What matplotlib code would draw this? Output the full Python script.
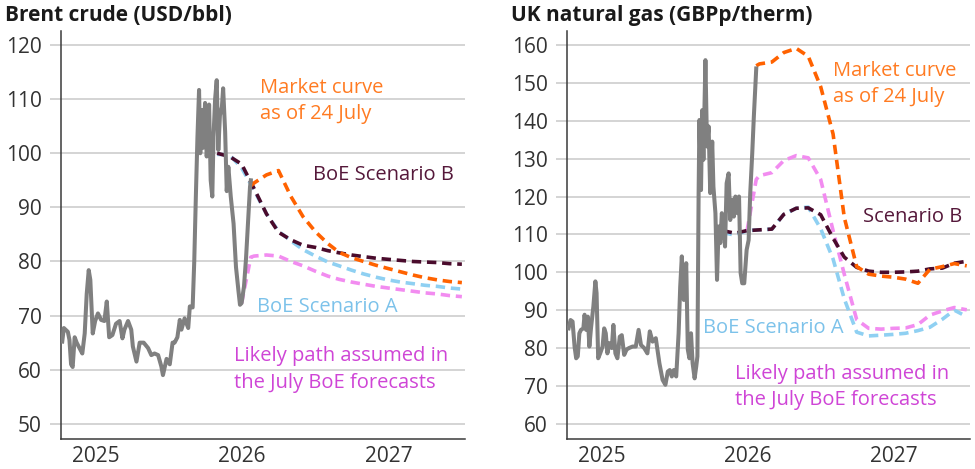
import matplotlib
matplotlib.use('Agg')
import matplotlib.pyplot as plt
import pandas as pd

plt.rcParams['font.family'] = ['Open Sans', 'DejaVu Sans']

# ---- data -------------------------------------------------------------
brent_dates = [
    '2025-04-10', '2025-04-14', '2025-04-24', '2025-04-28', '2025-05-02', '2025-05-06',
    '2025-05-11', '2025-05-16', '2025-05-23', '2025-05-30', '2025-06-05', '2025-06-10',
    '2025-06-15', '2025-06-19', '2025-06-25', '2025-07-01', '2025-07-08', '2025-07-16',
    '2025-07-24', '2025-07-30', '2025-08-05', '2025-08-13', '2025-08-22', '2025-08-31',
    '2025-09-07', '2025-09-12', '2025-09-21', '2025-09-29', '2025-10-03', '2025-10-12',
    '2025-10-20', '2025-10-30', '2025-11-10', '2025-11-18', '2025-11-26', '2025-12-05',
    '2025-12-13', '2025-12-17', '2025-12-26', '2026-01-03', '2026-01-10', '2026-01-15',
    '2026-01-22', '2026-01-28', '2026-02-01', '2026-02-09', '2026-02-18', '2026-02-22',
    '2026-03-01', '2026-03-05', '2026-03-09', '2026-03-13', '2026-03-17', '2026-03-20',
    '2026-03-24', '2026-03-27', '2026-04-01', '2026-04-05', '2026-04-09', '2026-04-11',
    '2026-04-15', '2026-04-19', '2026-04-22', '2026-04-26', '2026-04-30', '2026-05-04',
    '2026-05-08', '2026-05-13', '2026-05-16', '2026-05-21', '2026-05-25', '2026-05-29',
    '2026-06-04', '2026-06-11', '2026-06-17', '2026-06-23', '2026-06-27', '2026-07-01',
    '2026-07-07', '2026-07-12', '2026-07-18', '2026-07-22', '2026-07-24',
]
brent_hist = [
    65.2, 67.7, 67.0, 65.5, 61.0, 60.5,
    66.0, 65.0, 64.0, 63.0, 66.7, 74.0,
    78.4, 76.6, 66.7, 69.0, 70.4, 69.2,
    69.0, 72.6, 66.0, 66.4, 68.5, 69.0,
    65.8, 67.4, 69.0, 67.4, 64.3, 61.5,
    65.0, 65.0, 64.0, 62.7, 63.0, 62.7,
    60.6, 59.0, 62.0, 61.0, 65.0, 65.0,
    66.0, 69.2, 67.4, 69.5, 67.7, 71.7,
    71.5, 80.0, 92.0, 103.0, 111.7, 100.0,
    108.0, 101.0, 109.3, 99.4, 103.0, 109.0,
    95.0, 92.0, 103.0, 110.0, 113.5, 100.6,
    107.0, 108.6, 112.0, 104.0, 93.0, 97.5,
    92.0, 87.0, 79.0, 74.7, 72.0, 72.3,
    75.4, 80.5, 88.5, 93.8, 95.0,
]

gas_dates = [
    '2025-04-11', '2025-04-16', '2025-04-21', '2025-04-26', '2025-04-30', '2025-05-04',
    '2025-05-08', '2025-05-12', '2025-05-18', '2025-05-21', '2025-05-25', '2025-05-29',
    '2025-06-02', '2025-06-06', '2025-06-12', '2025-06-17', '2025-06-20', '2025-06-24',
    '2025-06-29', '2025-07-05', '2025-07-09', '2025-07-13', '2025-07-17', '2025-07-22',
    '2025-07-28', '2025-08-01', '2025-08-06', '2025-08-11', '2025-08-17', '2025-08-22',
    '2025-08-28', '2025-09-03', '2025-09-09', '2025-09-18', '2025-09-26', '2025-10-03',
    '2025-10-09', '2025-10-17', '2025-10-25', '2025-10-31', '2025-11-07', '2025-11-15',
    '2025-11-24', '2025-12-02', '2025-12-09', '2025-12-15', '2025-12-20', '2025-12-25',
    '2025-12-30', '2026-01-05', '2026-01-11', '2026-01-15', '2026-01-19', '2026-01-24',
    '2026-01-30', '2026-02-03', '2026-02-07', '2026-02-11', '2026-02-15', '2026-02-20',
    '2026-02-24', '2026-02-27', '2026-03-02', '2026-03-04', '2026-03-08', '2026-03-11',
    '2026-03-14', '2026-03-19', '2026-03-23', '2026-03-27', '2026-03-31', '2026-04-05',
    '2026-04-08', '2026-04-13', '2026-04-17', '2026-04-21', '2026-04-25', '2026-04-29',
    '2026-05-03', '2026-05-07', '2026-05-11', '2026-05-16', '2026-05-20', '2026-05-25',
    '2026-05-29', '2026-06-02', '2026-06-07', '2026-06-11', '2026-06-15', '2026-06-19',
    '2026-06-24', '2026-06-30', '2026-07-05', '2026-07-09', '2026-07-14', '2026-07-18',
    '2026-07-24',
]
gas_hist = [
    85.2, 87.4, 87.0, 80.4, 77.3, 77.8,
    83.9, 84.8, 85.2, 88.8, 84.8, 88.3,
    80.4, 85.2, 91.0, 97.6, 94.5, 77.3,
    78.6, 80.4, 85.2, 83.9, 78.6, 81.3,
    80.0, 86.1, 78.6, 77.3, 83.0, 83.4,
    78.2, 79.6, 80.0, 80.4, 80.4, 84.8,
    80.8, 80.0, 78.6, 84.4, 81.7, 82.6,
    76.0, 71.6, 70.3, 73.8, 74.2, 72.5,
    74.2, 72.5, 83.9, 96.2, 104.2, 92.7,
    102.4, 79.6, 77.3, 83.9, 76.0, 72.0,
    75.1, 77.8, 120.9, 140.2, 121.7, 142.8,
    129.7, 156.0, 133.2, 138.5, 120.9, 134.5,
    122.6, 115.6, 98.0, 112.1, 107.7, 115.6,
    112.1, 106.8, 123.5, 126.1, 113.8, 119.1,
    114.7, 120.0, 115.6, 120.0, 99.8, 97.1,
    97.1, 105.9, 108.5, 120.9, 131.4, 141.1,
    153.8,
]

# forecast paths: BoE scenarios monthly from May 2026,
# market curve from 24 July, likely path from 1 July
scen_dates = list(pd.date_range('2026-05-01', '2028-01-01', freq='MS'))
market_dates = [pd.Timestamp('2026-07-24')] + list(pd.date_range('2026-08-01', '2028-01-01', freq='MS'))
likely_dates = [pd.Timestamp('2026-07-01')] + market_dates

brent_scen_b = [100.0, 99.4, 98.0, 93.5, 88.8, 85.4, 84.0, 83.0, 82.6, 82.0, 81.6,
                81.2, 80.9, 80.6, 80.4, 80.2, 80.0, 79.9, 79.8, 79.6, 79.5]
brent_scen_a = [99.8, 99.7, 97.3, 93.2, 88.8, 85.6, 83.8, 82.2, 81.0, 79.9, 79.2,
                78.4, 77.7, 77.1, 76.6, 76.2, 75.9, 75.6, 75.4, 75.1, 74.9]
brent_market = [94.0, 94.5, 96.0, 96.8, 92.0, 88.3, 85.5, 83.3, 81.7, 80.7, 80.0,
                79.3, 78.7, 78.1, 77.5, 77.0, 76.6, 76.3, 76.1]
brent_likely = [72.3, 80.8, 81.0, 81.2, 81.0, 80.0, 79.2, 78.2, 77.3, 76.7, 76.2,
                75.8, 75.4, 75.1, 74.8, 74.5, 74.2, 74.0, 73.7, 73.5]

gas_scen_b = [111.0, 110.3, 111.0, 111.2, 111.4, 115.3, 116.9, 117.0, 115.2, 109.0, 104.0,
              101.3, 100.3, 100.0, 100.0, 100.1, 100.3, 100.9, 101.1, 102.4, 102.9]
gas_scen_a = [110.5, 109.8, 111.0, 111.2, 111.4, 115.3, 116.9, 117.2, 111.5, 103.5, 93.0,
              84.2, 83.2, 83.4, 83.6, 83.9, 84.6, 85.5, 87.6, 90.0, 88.3]
gas_market = [154.5, 155.0, 155.5, 158.0, 159.1, 157.0, 149.0, 136.5, 114.5, 101.5, 99.5,
              99.0, 98.7, 98.2, 97.1, 100.8, 101.5, 102.3, 101.7]
gas_likely = [111.0, 124.5, 125.5, 126.3, 129.5, 130.8, 130.2, 124.5, 111.0, 99.5, 87.5,
              85.2, 85.0, 85.2, 85.3, 86.2, 88.7, 89.8, 90.7, 90.1]

year_ticks = ['2025-07-02', '2026-07-02', '2027-07-02']
year_labels = ['2025', '2026', '2027']

# ---- style --------------------------------------------------------------
GREY = '#808080'
ORANGE = '#ff6200'
MAROON = '#4a0b2c'
BLUE = '#8fd0f2'
PINK = '#f28cf0'
TXT_ORANGE = '#ff7b22'
TXT_MAROON = '#55183a'
TXT_BLUE = '#7cc2ea'
TXT_PINK = '#cf45d6'
TICK_FS = 15
NOTE_FS = 14.5


def draw_panel(ax, hist_d, hist_v, scen_b, scen_a, market, likely, ylim, yticks):
    dash = dict(lw=2.6, dashes=(2.6, 1.6), dash_capstyle='butt')
    ax.plot(pd.to_datetime(scen_dates), scen_a, color=BLUE, zorder=3, **dash)
    ax.plot(pd.to_datetime(scen_dates), scen_b, color=MAROON, zorder=4, **dash)
    ax.plot(pd.to_datetime(likely_dates), likely, color=PINK, zorder=3, **dash)
    ax.plot(pd.to_datetime(market_dates), market, color=ORANGE, zorder=4, **dash)
    ax.plot(pd.to_datetime(hist_d), hist_v, color=GREY, lw=2.9, zorder=5)

    ax.set_xlim(pd.Timestamp('2025-04-07'), pd.Timestamp('2028-01-09'))
    ax.set_ylim(*ylim)
    ax.set_yticks(yticks)
    ax.set_xticks(pd.to_datetime(year_ticks))
    ax.set_xticklabels(year_labels)

    ax.yaxis.grid(True, color='#cdcdcd', lw=1.2)
    ax.set_axisbelow(True)
    for side in ('top', 'right'):
        ax.spines[side].set_visible(False)
    for side in ('left', 'bottom'):
        ax.spines[side].set_color('#3a3a3a')
        ax.spines[side].set_linewidth(1.1)

    ax.tick_params(axis='y', direction='out', length=8, width=1.2, color='#cdcdcd',
                   pad=6, labelsize=TICK_FS, labelcolor='#333333')
    ax.tick_params(axis='x', length=0, pad=5, labelsize=TICK_FS, labelcolor='#333333')


fig = plt.figure(figsize=(9.75, 4.69), dpi=100)

ax1 = fig.add_axes([0.0626, 0.064, 0.4144, 0.870])
draw_panel(ax1, brent_dates, brent_hist, brent_scen_b, brent_scen_a,
           brent_market, brent_likely, (47.2, 122.6), range(50, 121, 10))

ax2 = fig.add_axes([0.5815, 0.064, 0.4133, 0.870])
draw_panel(ax2, gas_dates, gas_hist, gas_scen_b, gas_scen_a,
           gas_market, gas_likely, (56.0, 163.7), range(60, 161, 10))

fig.text(0.005, 0.956, 'Brent crude (USD/bbl)', fontsize=15, fontweight='bold',
         color='#1a1a1a', va='baseline', ha='left')
fig.text(0.524, 0.956, 'UK natural gas (GBPp/therm)', fontsize=15, fontweight='bold',
         color='#1a1a1a', va='baseline', ha='left')

# annotations: (text, x, y, colour) in axes fraction
notes1 = [
    ('Market curve', 0.493, 0.848, TXT_ORANGE),
    ('as of 24 July', 0.493, 0.784, TXT_ORANGE),
    ('BoE Scenario B', 0.624, 0.635, TXT_MAROON),
    ('BoE Scenario A', 0.485, 0.310, TXT_BLUE),
    ('Likely path assumed in', 0.428, 0.190, TXT_PINK),
    ('the July BoE forecasts', 0.428, 0.124, TXT_PINK),
]
notes2 = [
    ('Market curve', 0.660, 0.890, TXT_ORANGE),
    ('as of 24 July', 0.660, 0.827, TXT_ORANGE),
    ('Scenario B', 0.735, 0.531, TXT_MAROON),
    ('BoE Scenario A', 0.338, 0.259, TXT_BLUE),
    ('Likely path assumed in', 0.417, 0.146, TXT_PINK),
    ('the July BoE forecasts', 0.417, 0.083, TXT_PINK),
]
for ax, notes in ((ax1, notes1), (ax2, notes2)):
    for txt, x, y, col in notes:
        ax.text(x, y, txt, transform=ax.transAxes, fontsize=NOTE_FS, color=col,
                ha='left', va='baseline', zorder=6)

fig.savefig('out.png', dpi=100)
